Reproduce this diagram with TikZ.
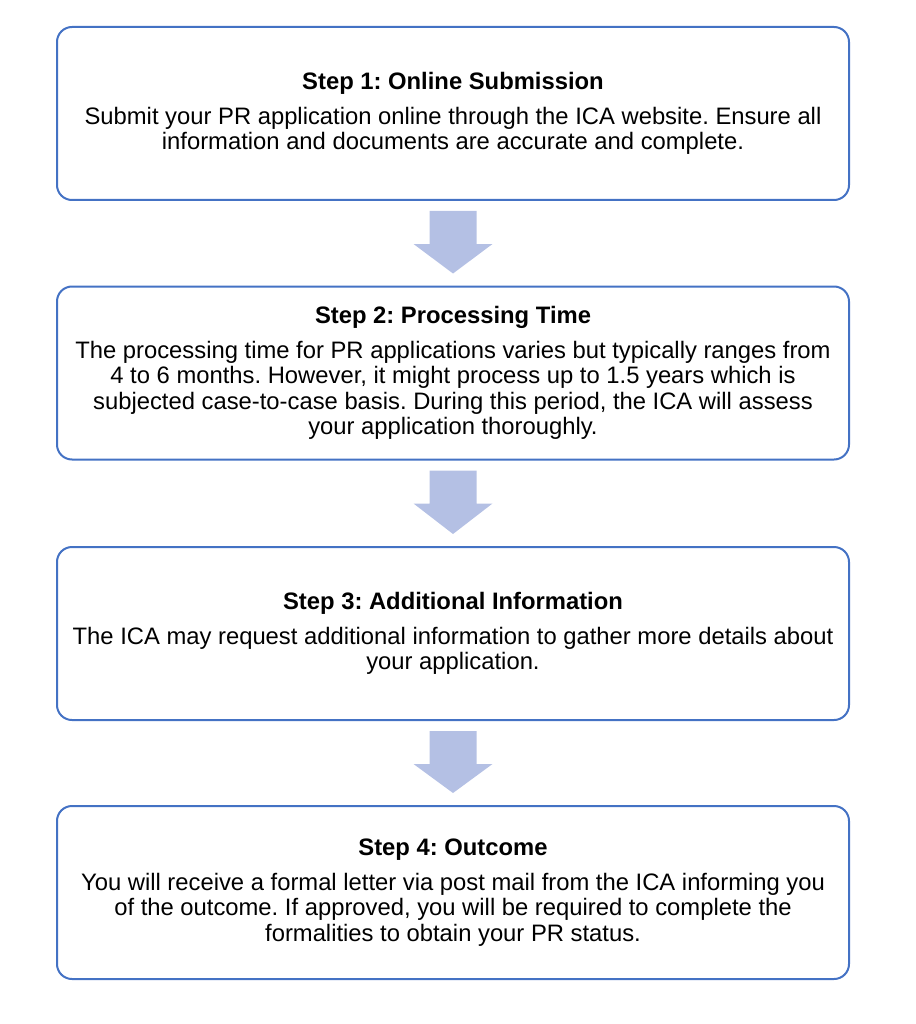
\documentclass[tikz,border=0pt]{standalone}
\usepackage{fontspec}
\setmainfont{Liberation Sans}
\frenchspacing
\usetikzlibrary{calc}
\definecolor{boxline}{HTML}{4472C4}
\definecolor{arrowfill}{HTML}{B4C0E4}
\begin{document}
\begin{tikzpicture}[x=1pt,y=-1pt,font=\fontsize{23.8}{25.5}\selectfont,
  stepbox/.style={draw=boxline,line width=2pt,rounded corners=15pt,
    minimum width=792pt,minimum height=173pt,align=center,inner sep=0pt},
  downarrow/.style={fill=arrowfill}]
  \useasboundingbox (0,0) rectangle (915,1024);
  \node [stepbox] (s1) at (453,113.5) {\textbf{Step 1: Online Submission}\\[9pt]
    Submit your PR application online through the ICA website. Ensure all\\
    information and documents are accurate and complete.};
  \node [stepbox] (s2) at (453,373) {\textbf{Step 2: Processing Time}\\[9pt]
    The processing time for PR applications varies but typically ranges from\\
    4 to 6 months. However, it might process up to 1.5 years which is\\
    subjected case-to-case basis. During this period, the ICA will assess\\
    your application thoroughly.};
  \node [stepbox] (s3) at (453,633.5) {\textbf{Step 3: Additional Information}\\[9pt]
    The ICA may request additional information to gather more details about\\
    your application.};
  \node [stepbox] (s4) at (453,892.5) {\textbf{Step 4: Outcome}\\[9pt]
    You will receive a formal letter via post mail from the ICA informing you\\
    of the outcome. If approved, you will be required to complete the\\
    formalities to obtain your PR status.};
  % block arrows between the steps
  \foreach \a/\b in {s1/s2,s2/s3,s3/s4}
    \fill [downarrow] ($(\a.south)+(-23.5,10)$) -- ($(\a.south)+(23.5,10)$)
      -- ($(\a.south)+(23.5,43)$) -- ($(\a.south)+(39.5,43)$)
      -- ($(\b.north)+(0,-12)$) -- ($(\a.south)+(-39.5,43)$)
      -- ($(\a.south)+(-23.5,43)$) -- cycle;
\end{tikzpicture}
\end{document}
